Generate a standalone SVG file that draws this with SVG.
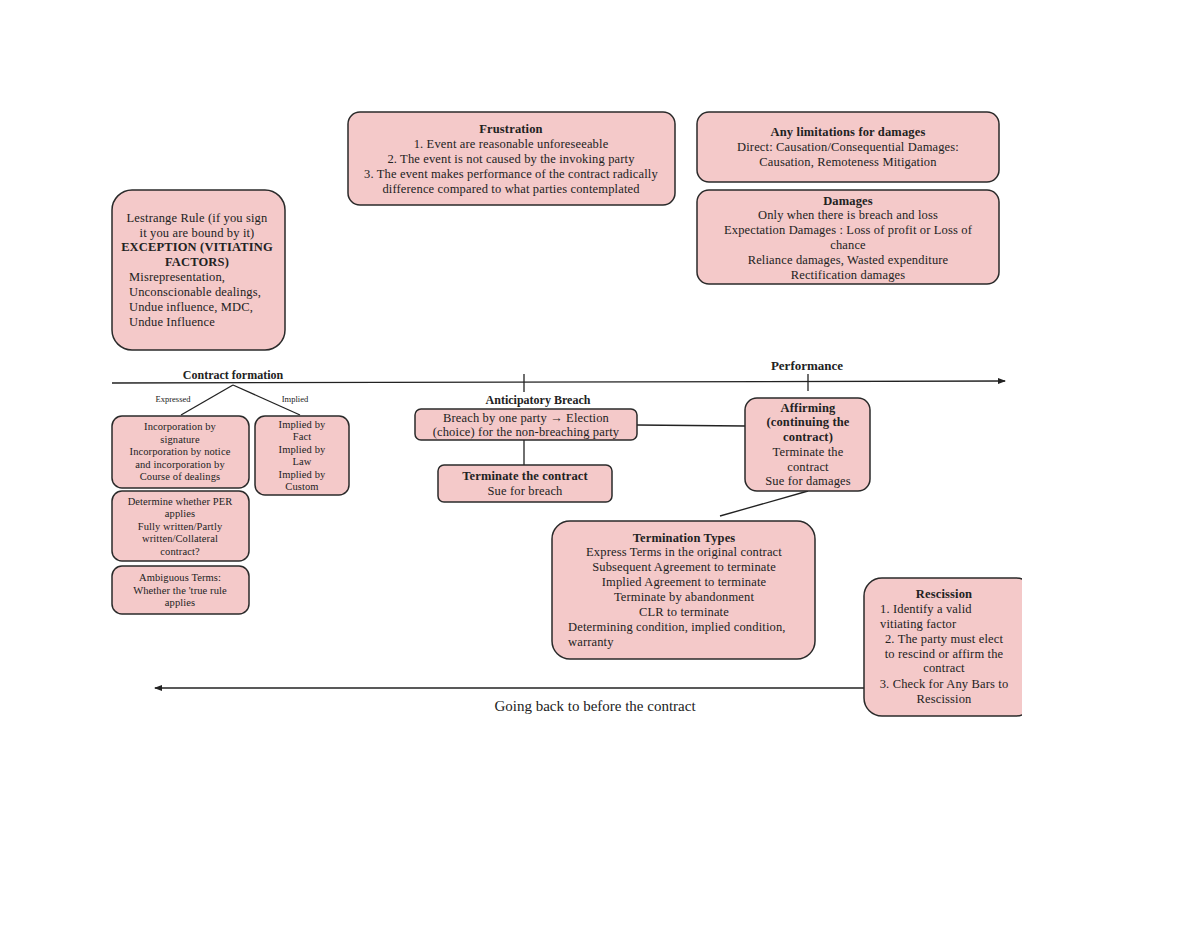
<svg xmlns="http://www.w3.org/2000/svg" width="1200" height="927" viewBox="0 0 1200 927">
<defs>
<style>
.box{fill:#f4c9c9;stroke:#2a2a2a;stroke-width:1.5}
text{font-family:"Liberation Serif","DejaVu Serif",serif;fill:#222}
.c{text-anchor:middle}
.b{font-weight:bold}
.t12{font-size:13px}
.t11{font-size:12.5px;letter-spacing:0.15px}
.t9{font-size:10.5px;letter-spacing:0.1px}
.t8{font-size:8.5px}
.ln{stroke:#222;stroke-width:1.3;fill:none}
</style>
<marker id="ah" markerWidth="8" markerHeight="6" refX="7" refY="3" orient="auto" markerUnits="userSpaceOnUse">
<path d="M0,0 L8,3 L0,6 z" fill="#222"/>
</marker>
</defs>
<rect width="1200" height="927" fill="#fff"/>

<g id="connectors">
<line class="ln" x1="112" y1="383" x2="1005" y2="381" marker-end="url(#ah)"/>
<line class="ln" x1="524" y1="374" x2="524" y2="392"/>
<line class="ln" x1="808" y1="374" x2="808" y2="391"/>
<line class="ln" x1="233" y1="385" x2="181" y2="415"/>
<line class="ln" x1="233" y1="385" x2="300" y2="415"/>
<line class="ln" x1="524" y1="440" x2="524" y2="465"/>
<line class="ln" x1="637" y1="425" x2="745" y2="426"/>
<line class="ln" x1="808" y1="491" x2="720" y2="516"/>
<line class="ln" x1="864" y1="688" x2="155" y2="688" marker-end="url(#ah)"/>
<text class="t8 c" x="173" y="402">Expressed</text>
<text class="t8 c" x="295" y="402">Implied</text>
<text class="b c" style="font-size:12px" x="233" y="379">Contract formation</text>
<text class="b t12 c" x="807" y="370">Performance</text>
<text class="b c" style="font-size:12px" x="538" y="404">Anticipatory Breach</text>
<text class="c" style="font-size:15px" x="595" y="711">Going back to before the contract</text>
</g>

<g id="frustration">
<rect class="box" x="348" y="112" width="327" height="93" rx="12"/>
<text class="t11 c" x="511"><tspan class="b" x="511" y="133">Frustration</tspan><tspan x="511" y="148">1. Event are reasonable unforeseeable</tspan><tspan x="511" y="163">2. The event is not caused by the invoking party</tspan><tspan x="511" y="178">3. The event makes performance of the contract radically</tspan><tspan x="511" y="193">difference compared to what parties contemplated</tspan></text>
</g>

<g id="limitations">
<rect class="box" x="697" y="112" width="302" height="70" rx="12"/>
<text class="t11 c"><tspan class="b" x="848" y="136">Any limitations for damages</tspan><tspan x="848" y="151">Direct: Causation/Consequential Damages:</tspan><tspan x="848" y="166">Causation, Remoteness Mitigation</tspan></text>
</g>

<g id="damages">
<rect class="box" x="697" y="190" width="302" height="94" rx="12"/>
<text class="t11 c"><tspan class="b" x="848" y="205">Damages</tspan><tspan x="848" y="219">Only when there is breach and loss</tspan><tspan x="848" y="234">Expectation Damages : Loss of profit or Loss of</tspan><tspan x="848" y="249">chance</tspan><tspan x="848" y="264">Reliance damages, Wasted expenditure</tspan><tspan x="848" y="279">Rectification damages</tspan></text>
</g>

<g id="lestrange">
<rect class="box" x="112" y="190" width="173" height="160" rx="20"/>
<text class="t11"><tspan class="c" x="197" y="222">Lestrange Rule (if you sign</tspan><tspan class="c" x="197" y="237">it you are bound by it)</tspan><tspan class="c b" x="197" y="251">EXCEPTION (VITIATING</tspan><tspan class="c b" x="197" y="266">FACTORS)</tspan><tspan x="129" y="281">Misrepresentation,</tspan><tspan x="129" y="296">Unconscionable dealings,</tspan><tspan x="129" y="311">Undue influence, MDC,</tspan><tspan x="129" y="326">Undue Influence</tspan></text>
</g>

<g id="incorporation">
<rect class="box" x="112" y="416" width="137" height="72" rx="10"/>
<text class="t9 c"><tspan x="180" y="430">Incorporation by</tspan><tspan x="180" y="443">signature</tspan><tspan x="180" y="455">Incorporation by notice</tspan><tspan x="180" y="468">and incorporation by</tspan><tspan x="180" y="480">Course of dealings</tspan></text>
</g>

<g id="implied">
<rect class="box" x="255" y="416" width="94" height="79" rx="10"/>
<text class="t9 c"><tspan x="302" y="428">Implied by</tspan><tspan x="302" y="440">Fact</tspan><tspan x="302" y="453">Implied by</tspan><tspan x="302" y="465">Law</tspan><tspan x="302" y="478">Implied by</tspan><tspan x="302" y="490">Custom</tspan></text>
</g>

<g id="per">
<rect class="box" x="112" y="491" width="137" height="70" rx="10"/>
<text class="t9 c"><tspan x="180" y="505">Determine whether PER</tspan><tspan x="180" y="517">applies</tspan><tspan x="180" y="530">Fully written/Partly</tspan><tspan x="180" y="542">written/Collateral</tspan><tspan x="180" y="555">contract?</tspan></text>
</g>

<g id="ambiguous">
<rect class="box" x="112" y="566" width="137" height="48" rx="10"/>
<text class="t9 c"><tspan x="180" y="581">Ambiguous Terms:</tspan><tspan x="180" y="594">Whether the 'true rule</tspan><tspan x="180" y="606">applies</tspan></text>
</g>

<g id="breach">
<rect class="box" x="415" y="409" width="222" height="31" rx="6"/>
<text class="t11 c"><tspan x="526" y="422">Breach by one party → Election</tspan><tspan x="526" y="436">(choice) for the non-breaching party</tspan></text>
</g>

<g id="terminate">
<rect class="box" x="438" y="465" width="174" height="37" rx="6"/>
<text class="t11 c"><tspan class="b" x="525" y="480">Terminate the contract</tspan><tspan x="525" y="495">Sue for breach</tspan></text>
</g>

<g id="affirming">
<rect class="box" x="745" y="398" width="125" height="93" rx="12"/>
<text class="t11 c"><tspan class="b" x="808" y="412">Affirming</tspan><tspan class="b" x="808" y="426">(continuing the</tspan><tspan class="b" x="808" y="441">contract)</tspan><tspan x="808" y="456">Terminate the</tspan><tspan x="808" y="471">contract</tspan><tspan x="808" y="485">Sue for damages</tspan></text>
</g>

<g id="termination">
<rect class="box" x="552" y="521" width="263" height="138" rx="18"/>
<text class="t11"><tspan class="c b" x="684" y="542">Termination Types</tspan><tspan class="c" x="684" y="556">Express Terms in the original contract</tspan><tspan class="c" x="684" y="571">Subsequent Agreement to terminate</tspan><tspan class="c" x="684" y="586">Implied Agreement to terminate</tspan><tspan class="c" x="684" y="601">Terminate by abandonment</tspan><tspan class="c" x="684" y="616">CLR to terminate</tspan><tspan x="568" y="631">Determining condition, implied condition,</tspan><tspan x="568" y="646">warranty</tspan></text>
</g>

<g id="rescission">
<rect class="box" x="864" y="578" width="170" height="138" rx="18"/>
<text class="t11"><tspan class="c b" x="944" y="598">Rescission</tspan><tspan x="880" y="613">1. Identify a valid</tspan><tspan x="880" y="628">vitiating factor</tspan><tspan class="c" x="944" y="643">2. The party must elect</tspan><tspan class="c" x="944" y="658">to rescind or affirm the</tspan><tspan class="c" x="944" y="672">contract</tspan><tspan class="c" x="944" y="688">3. Check for Any Bars to</tspan><tspan class="c" x="944" y="703">Rescission</tspan></text>
</g>
<rect x="1022" y="560" width="178" height="170" fill="#fff"/>
</svg>
